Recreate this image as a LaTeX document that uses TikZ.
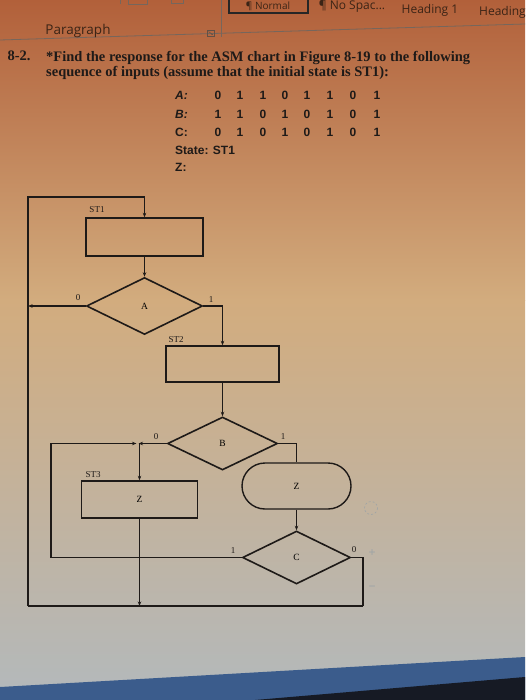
\documentclass[tikz,border=0pt]{standalone}
\usepackage{fontspec}
\setmainfont{Liberation Serif}
\newfontfamily\uifont{Open Sans}
\newfontfamily\tabfont{Liberation Sans}
\usetikzlibrary{arrows.meta,shapes.geometric,shapes.misc}
\definecolor{bgA}{HTML}{B2603A}
\definecolor{bgB}{HTML}{C6874F}
\definecolor{bgC}{HTML}{D2AC7E}
\definecolor{bgD}{HTML}{D7D4C9}
\definecolor{bgE}{HTML}{B3B9BC}
\definecolor{ink}{HTML}{1E1A18}
\definecolor{uiink}{HTML}{3B2416}
\definecolor{barblue}{HTML}{3B5C8C}
\definecolor{bardark}{HTML}{161A24}
\definecolor{faint}{HTML}{9EA4A6}
\begin{document}
\begin{tikzpicture}[x=1pt,y=-1pt,
  line/.style={draw=ink, line width=1.2pt},
  arr/.style={line, -{Stealth[length=4.5pt,width=3.5pt]}},
  statebox/.style={draw=ink, line width=1.4pt, rectangle, inner sep=0pt, font=\fontsize{9.5}{10}\selectfont},
  decide/.style={draw=ink, line width=1.6pt, diamond, inner sep=0pt, font=\fontsize{9.5}{10}\selectfont},
  lbl/.style={font=\fontsize{9}{9}\selectfont, text=ink, inner sep=0pt},
  tab/.style={font=\tabfont\bfseries\fontsize{12}{13}\selectfont, text=ink, inner sep=0pt},
  ui/.style={font=\uifont\fontsize{12}{13}\selectfont, text=uiink, inner sep=0pt},
  prob/.style={font=\bfseries\fontsize{14.5}{16}\selectfont, text=ink, inner sep=0pt},
]
\useasboundingbox (0,0) rectangle (525,700);
\clip (0,0) rectangle (525,700);
% background
\shade[top color=bgA, middle color=bgB, bottom color=bgC] (0,0) rectangle (525,300);
\shade[top color=bgC, middle color=bgD, bottom color=bgE] (0,300) rectangle (525,700);
\fill[barblue] (0,687) -- (525,657) -- (525,700) -- (0,700) -- cycle;
\fill[bardark] (255,700) -- (525,677) -- (525,700) -- cycle;

% ribbon
\draw[uiink!70, line width=0.8pt] (0,40) -- (525,24);
\draw[uiink!70, line width=0.8pt] (221,0) -- (221,37);
\draw[uiink!70, line width=0.8pt] (120,0) -- (120,4);
\draw[uiink!70, line width=0.8pt] (128,-2) rectangle (147,4);
\draw[uiink!70, line width=0.8pt] (171,-2) rectangle (183,3);
\draw[black!85, line width=2pt] (229,-6) rectangle (308,13);
\node[ui, font=\uifont\fontsize{10}{11}\selectfont] (normal) at (268,6) {¶ Normal};
\node[ui] (nospac) at (352,6) {¶ No Spac...};
\node[ui] (head1) at (430,10) {Heading 1};
\node[ui, anchor=west] (head2) at (479,12) {Heading};
\node[ui, font=\uifont\fontsize{13.5}{14}\selectfont] (para) at (78,31) {Paragraph};
\draw[uiink!80, line width=0.6pt] (207,30) rectangle (214,36);
\draw[uiink!80, line width=0.6pt, -{Stealth[length=2pt]}] (208.5,31.5) -- (213,35);

% problem text
\node[prob] (num) at (19,56) {8-2.};
\node[prob, anchor=west] (line1) at (46,58) {*Find the response for the ASM chart in Figure 8-19 to the following};
\node[prob, anchor=west] (line2) at (46,73) {sequence of inputs (assume that the initial state is ST1):};

% table
\node[tab, anchor=west] (la) at (175,95) {\itshape A:};
\node[tab, anchor=west] (lb) at (175,114) {\itshape B:};
\node[tab, anchor=west] (lc) at (175,132) {C:};
\node[tab, anchor=west] (ls) at (175,150) {State: ST1};
\node[tab, anchor=west] (lz) at (175,167) {Z:};
\foreach \x/\a/\b/\c [count=\i] in {218/0/1/0, 240/1/1/1, 263/1/0/0, 285/0/1/1, 307/1/0/0, 330/1/1/1, 353/0/0/0, 377/1/1/1} {
  \node[tab] (a\i) at (\x,95) {\a};
  \node[tab] (b\i) at (\x,114) {\b};
  \node[tab] (c\i) at (\x,132) {\c};
}

% flowchart nodes
\node[statebox, minimum width=117pt, minimum height=38pt] (st1) at (144.5,237) {};
\node[decide, minimum width=116pt, minimum height=57pt] (A) at (144.5,306) {A};
\node[statebox, minimum width=113pt, minimum height=36pt] (st2) at (222.5,364) {};
\node[decide, minimum width=110pt, minimum height=53pt] (B) at (222.5,443.5) {B};
\node[statebox, minimum width=116pt, minimum height=37pt] (st3) at (139.5,499.5) {Z};
\node[draw=ink, line width=1.4pt, rounded rectangle, minimum width=109pt, minimum height=46pt, inner sep=0pt, font=\fontsize{9.5}{10}\selectfont] (zov) at (296.5,486) {Z};
\node[decide, minimum width=108pt, minimum height=53pt] (C) at (296.5,557.5) {C};

\node[lbl] (lst1) at (97,210) {ST1};
\node[lbl] (lst2) at (176,340) {ST2};
\node[lbl] (lst3) at (93,475) {ST3};
\node[lbl] (a0) at (78,298) {0};
\node[lbl] (a1) at (211,300) {1};
\node[lbl] (b0) at (156,437) {0};
\node[lbl] (b1) at (283,437) {1};
\node[lbl] (c1) at (233,551) {1};
\node[lbl] (c0) at (354,550) {0};

% coordinates
\coordinate (otl) at (28,197);
\coordinate (obl) at (28,606);
\coordinate (obr) at (363,606);
\coordinate (jA) at (28,306);
\coordinate (jB) at (139.5,443.5);
\coordinate (ilt) at (51,443.5);
\coordinate (ilb) at (51,557.5);
\coordinate (jbot) at (139.5,606);

% connectors
\draw[line] (obr) -- (obl);
\draw[arr] (obl) -- (otl) -| (st1.north);
\draw[arr] (st1.south) -- (A.north);
\draw[arr] (A.west) -- (jA);
\draw[arr] (A.east) -| (st2.north);
\draw[arr] (st2.south) -- (B.north);
\draw[arr, shorten >=-1pt] (B.west) -- (jB);
\draw[arr, shorten >=3pt] (C.west) -- (ilb) -- (ilt) -- (jB);
\draw[arr] (jB) -- (st3.north);
\draw[arr] (st3.south) -- (jbot);
\draw[line] (B.east) -| (zov.north);
\draw[arr] (zov.south) -- (C.north);
\draw[line] (C.east) -| (obr);

% zoom overlay (screen)
\draw[faint, line width=0.6pt, dash pattern=on 2pt off 2pt] (371,508) circle (6.5);
\node[text=faint, font=\tabfont\fontsize{12}{12}\selectfont, inner sep=0pt] (zplus) at (372,553) {+};
\node[text=faint, font=\tabfont\fontsize{12}{12}\selectfont, inner sep=0pt] (zminus) at (372,588) {−};
\end{tikzpicture}
\end{document}
